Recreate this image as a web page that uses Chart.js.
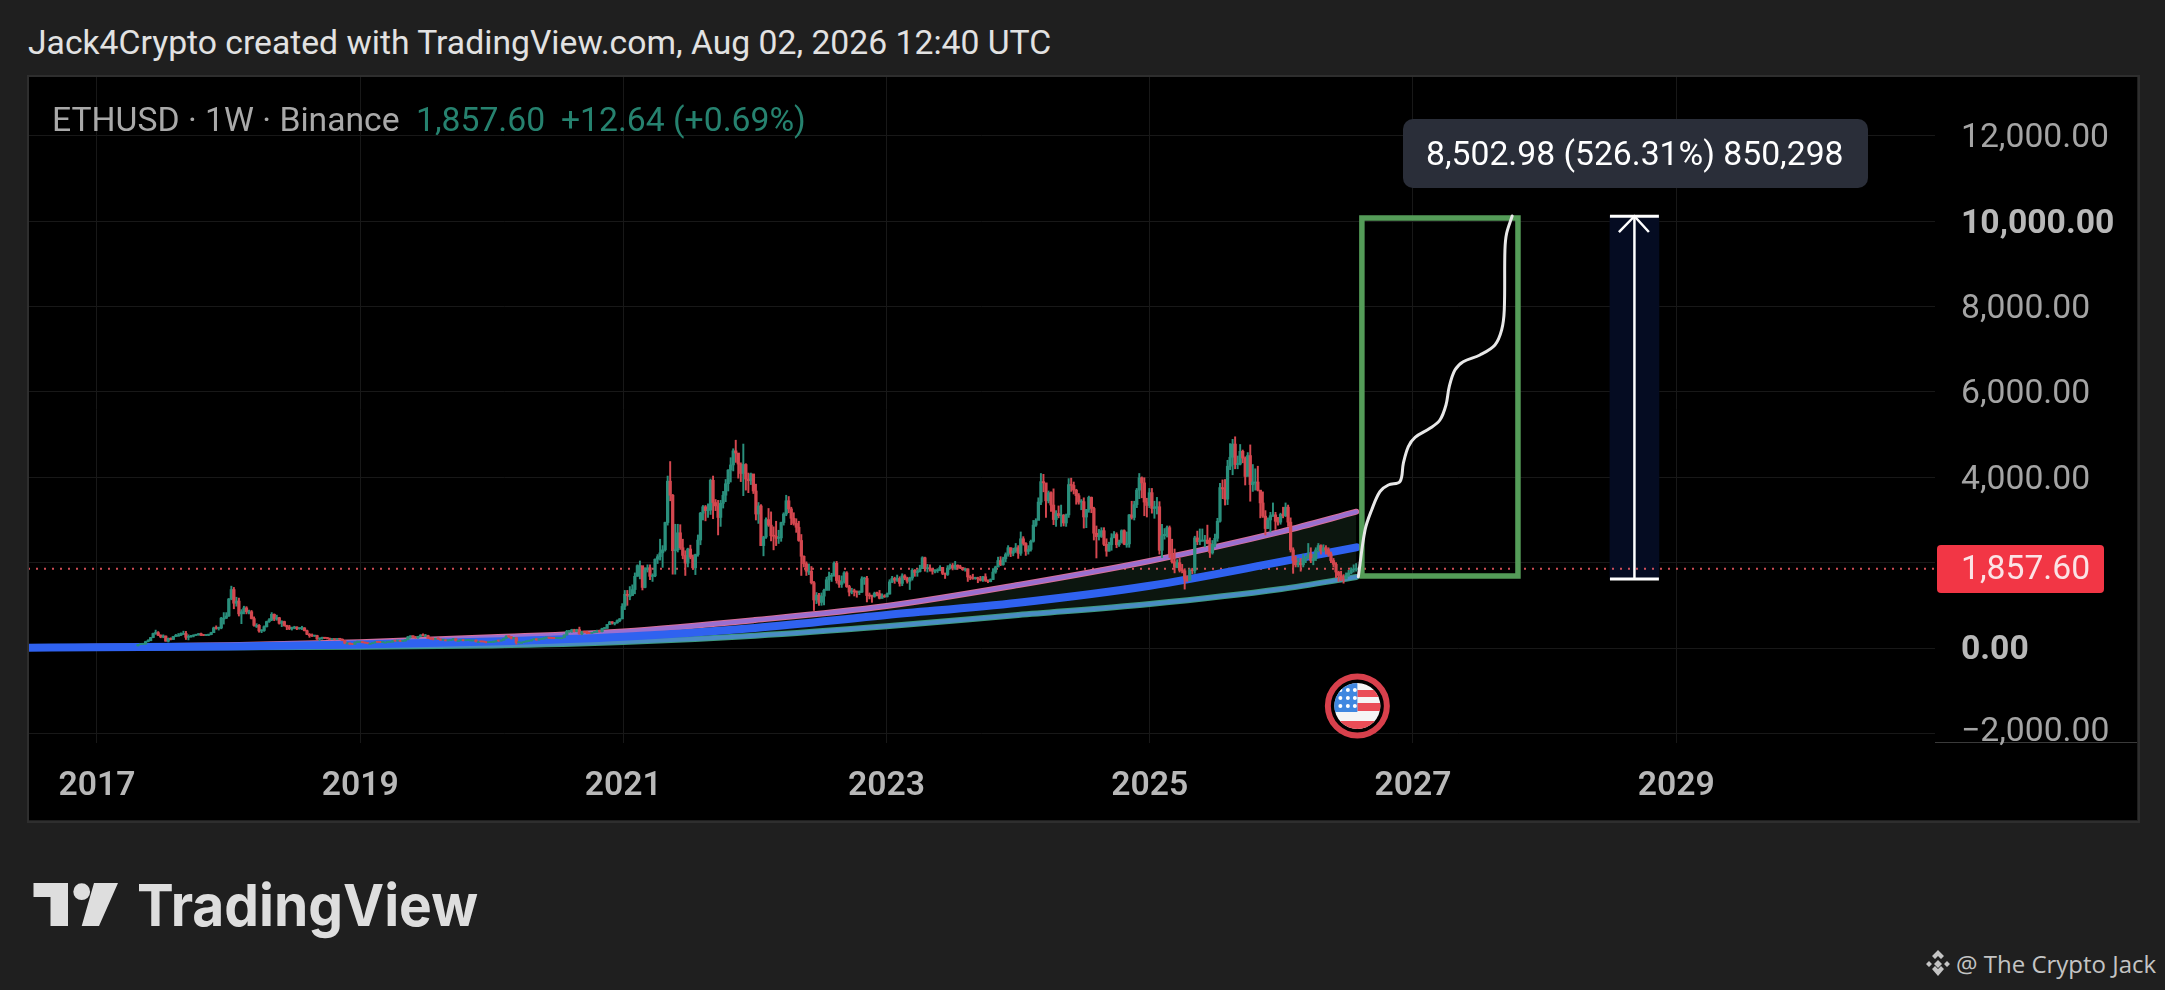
<!DOCTYPE html>
<html>
<head>
<meta charset="utf-8">
<title>ETHUSD</title>
<script src="https://cdn.jsdelivr.net/npm/chart.js@4"></script>
<style>
    html, body { margin: 0; padding: 0; width: 2165px; height: 990px; overflow: hidden; background: #1f1f1f; font-family: Roboto, sans-serif; }
    .txt { position: absolute; white-space: nowrap; line-height: 40px; height: 40px; }
    #panel { position: absolute; left: 28px; top: 76px; width: 2109px; height: 744px; background: #000; }
    #panelBorder { position: absolute; left: 27px; top: 75px; width: 2109px; height: 744px; border: 2px solid #2e2e2e; }
    #scaleLine { position: absolute; left: 1935px; top: 742px; width: 202px; height: 1px; background: #3a3a3a; }
    #tooltipBox { position: absolute; left: 1403px; top: 119px; width: 465px; height: 69px; background: #2a2e39; border-radius: 10px; }
    #lastPriceBox { position: absolute; left: 1937px; top: 545px; width: 167px; height: 48px; background: #f23645; border-radius: 4px; }
</style>
</head>
<body>
<div id="panel"><canvas id="myChart" width="2109" height="744"></canvas></div>
<div id="panelBorder"></div>
<div id="scaleLine"></div>

<div class="txt" style="left:28px;top:23px;font-size:33.7px;color:#e2e2e2">Jack4Crypto created with TradingView.com, Aug 02, 2026 12:40 UTC</div>
<div class="txt" style="left:52px;top:100px;font-size:33.7px;color:#a9a9a9">ETHUSD · 1W · Binance</div>
<div class="txt" style="left:416px;top:100px;font-size:33.7px;color:#26826f">1,857.60</div>
<div class="txt" style="left:561px;top:100px;font-size:33.7px;color:#26826f">+12.64 (+0.69%)</div>

<div id="tooltipBox"></div>
<div class="txt" style="left:1426px;top:134px;font-size:33.7px;color:#fff">8,502.98 (526.31%) 850,298</div>
<div id="lastPriceBox"></div>
<div class="txt" style="left:1961px;top:548px;font-size:33.7px;color:#fbe3e5">1,857.60</div>
<div class="txt" style="left:1961px;top:710px;font-size:33.7px;color:#a4a4a4">&minus;2,000.00</div>

<svg style="position:absolute;left:30px;top:870px" width="470" height="80">
    <path d="M3.5 13H38V56H20.5V27H3.5Z M64 13H88L69 56H51.7Z" fill="#dedede"/>
    <circle cx="51.7" cy="21.7" r="8.4" fill="#dedede"/>
    <text x="107" y="56" font-family="Inter" font-weight="700" font-size="58" fill="#dedede" textLength="341" lengthAdjust="spacingAndGlyphs">TradingView</text>
</svg>

<svg style="position:absolute;left:1924px;top:949px" width="30" height="30">
    <path d="M14 1l6 6-3 3-3-3-3 3-3-3Z M5 12l3 3-3 3-3-3Z M23 12l3 3-3 3-3-3Z M14 11l4 4-4 4-4-4Z M8 20l3-3 3 3 3-3 3 3-6 7Z" fill="#c4c4c4"/>
</svg>
<div class="txt" style="left:1956px;top:944px;font-family:'Open Sans';font-size:24px;color:#c4c4c4">@ The Crypto Jack</div>

<script>
    // weekly candles, first week is the end of april 2017
    const firstCandleYear = 2017.312;
    const candleWeeks = 7 / 365.25;

    const candleClose = [
        // 2017
        80, 88, 90, 150, 170, 245, 340, 360, 300, 260, 280, 160, 225, 200, 270, 300, 300, 340, 340, 250, 260, 280, 300, 305, 335, 300, 295, 300, 315, 360, 470, 460, 470, 700, 700, 750,
        // 2018
        1150, 1370, 1050, 1100, 800, 850, 940, 850, 850, 690, 530, 530, 400, 410, 500, 620, 660, 790, 680, 710, 580, 620, 525, 495, 450, 470, 490, 450, 460, 470, 405, 320, 290, 280, 290, 210, 220, 245, 230, 225, 200, 205, 200, 215, 205, 175, 115, 115, 90, 85, 130, 135, 150,
        // 2019
        125, 118, 105, 105, 120, 140, 135, 132, 135, 135, 137, 140, 170, 165, 170, 160, 165, 195, 260, 270, 265, 240, 270, 300, 290, 290, 225, 220, 205, 225, 210, 185, 190, 170, 180, 190, 215, 175, 175, 190, 172, 180, 185, 185, 185, 150, 150, 148, 142, 128, 132, 140,
        // 2020
        145, 170, 165, 185, 225, 275, 265, 225, 240, 125, 130, 130, 145, 160, 170, 195, 215, 190, 205, 210, 240, 245, 235, 230, 225, 240, 240, 240, 305, 390, 395, 430, 385, 430, 335, 385, 370, 355, 345, 365, 370, 410, 385, 455, 460, 550, 610, 590, 590, 640, 685, 975,
        // 2021
        1260, 1230, 1230, 1370, 1680, 1930, 1930, 1420, 1830, 1880, 1680, 1690, 2080, 2140, 2230, 2300, 2940, 3910, 3580, 2280, 2300, 2700, 2350, 2170, 1990, 2320, 2130, 1880, 2190, 2530, 3160, 3310, 3220, 3230, 3930, 3410, 3330, 3060, 3390, 3580, 3850, 4170, 4290, 4620, 4570, 4310, 4090, 4300, 3960, 3920, 4080, 3680,
        // 2022
        3140, 3330, 2400, 2600, 3010, 2880, 2630, 2620, 2570, 2580, 2940, 3140, 3450, 3260, 3040, 2920, 2830, 2520, 2150, 1975, 1800, 1800, 1530, 1125, 1240, 1070, 1215, 1350, 1600, 1680, 1700, 1985, 1580, 1490, 1555, 1760, 1440, 1310, 1330, 1320, 1300, 1310, 1620, 1630, 1230, 1220, 1210, 1280, 1275, 1165, 1215, 1200,
        // 2023
        1265, 1550, 1630, 1590, 1630, 1515, 1690, 1640, 1565, 1640, 1820, 1770, 1790, 1860, 2115, 1860, 1870, 1850, 1800, 1810, 1830, 1890, 1750, 1725, 1875, 1935, 1870, 1940, 1895, 1880, 1835, 1855, 1665, 1645, 1630, 1635, 1620, 1590, 1670, 1585, 1555, 1605, 1780, 1900, 2050, 1950, 2090, 2190, 2350, 2220, 2275, 2350,
        // 2024
        2220, 2560, 2450, 2265, 2310, 2500, 2880, 2990, 3420, 3900, 3870, 3450, 3640, 3350, 3010, 3150, 3100, 3110, 2930, 3120, 3830, 3810, 3700, 3570, 3420, 3430, 3070, 3245, 3530, 3270, 2690, 2610, 2615, 2750, 2430, 2270, 2420, 2580, 2660, 2420, 2480, 2750, 2440, 2440, 3120, 3060, 3360, 3700, 3990, 3870, 3420, 3340, 3640,
        // 2025
        3270, 3310, 3310, 2290, 2630, 2665, 2820, 2210, 2020, 1890, 2000, 1820, 1810, 1620, 1580, 1820, 1810, 2580, 2490, 2530, 2530, 2530, 2450, 2230, 2430, 2570, 2970, 3760, 3730, 3490, 4260, 4470, 4780, 4300, 4310, 4610, 4450, 4020, 4510, 3830, 3890, 3890, 3700, 3400, 3090, 2800, 3000, 3100, 3120, 2970, 2950, 3130,
        // 2026
        3100, 3300, 2950, 2300, 2050, 1950, 2000, 1950, 2080, 2100, 2200, 2050, 2100, 2300, 2400, 2280, 2350, 2300, 2200, 2050, 1960, 1780, 1700, 1640, 1620, 1700, 1760, 1830, 1844.96, 1857.6
    ];

    const candleHigh = [
        // 2017
        85, 92, 100, 160, 195, 250, 350, 420, 385, 310, 310, 285, 235, 240, 275, 320, 340, 355, 395, 390, 310, 300, 310, 315, 340, 350, 310, 310, 325, 370, 490, 520, 490, 720, 830, 830,
        // 2018
        1160, 1450, 1420, 1190, 1170, 900, 980, 970, 890, 880, 730, 570, 550, 430, 520, 630, 690, 830, 800, 770, 720, 640, 630, 535, 530, 490, 510, 500, 480, 510, 480, 420, 340, 330, 300, 300, 240, 255, 250, 240, 235, 210, 210, 220, 220, 215, 180, 130, 120, 100, 145, 165, 160,
        // 2019
        160, 130, 125, 110, 125, 150, 150, 150, 140, 140, 145, 145, 180, 175, 175, 175, 170, 200, 270, 290, 285, 270, 275, 315, 330, 320, 300, 240, 240, 230, 240, 215, 200, 195, 185, 195, 225, 220, 185, 195, 195, 185, 195, 190, 190, 190, 155, 155, 150, 145, 135, 145,
        // 2020
        150, 175, 180, 190, 230, 290, 290, 270, 250, 245, 140, 145, 150, 170, 175, 200, 225, 220, 215, 220, 245, 250, 250, 240, 235, 245, 250, 245, 310, 415, 400, 440, 440, 440, 490, 390, 395, 395, 370, 370, 385, 420, 420, 465, 480, 555, 625, 620, 600, 660, 690, 1040,
        // 2021
        1350, 1350, 1440, 1480, 1760, 1950, 2040, 1650, 1880, 1950, 1950, 1740, 2090, 2190, 2550, 2400, 2950, 4030, 4370, 3600, 2900, 2900, 2890, 2550, 2280, 2340, 2410, 2180, 2200, 2650, 3180, 3340, 3340, 3380, 3960, 4030, 3480, 3460, 3460, 3670, 3950, 4180, 4460, 4670, 4870, 4560, 4340, 4780, 4320, 4100, 4100, 4030,
        // 2022
        3840, 3410, 3360, 2620, 3050, 3270, 3190, 2840, 2970, 2760, 2950, 3170, 3580, 3550, 3300, 3170, 3030, 2970, 2660, 2160, 2020, 1970, 1910, 1560, 1300, 1280, 1290, 1380, 1660, 1780, 1750, 2020, 2030, 1700, 1690, 1790, 1790, 1470, 1400, 1380, 1340, 1340, 1670, 1660, 1680, 1290, 1240, 1310, 1310, 1350, 1270, 1250,
        // 2023
        1290, 1600, 1680, 1660, 1710, 1670, 1740, 1720, 1660, 1660, 1860, 1840, 1830, 1940, 2140, 2130, 1960, 1950, 1870, 1840, 1860, 1930, 1890, 1760, 1930, 1970, 1980, 2030, 1950, 1940, 1890, 1870, 1860, 1700, 1730, 1660, 1660, 1680, 1680, 1740, 1600, 1620, 1860, 1920, 2130, 2140, 2130, 2230, 2400, 2350, 2340, 2450,
        // 2024
        2400, 2720, 2610, 2470, 2400, 2530, 2990, 3030, 3520, 4090, 4070, 3680, 3680, 3660, 3730, 3220, 3330, 3350, 3130, 3140, 3970, 3980, 3890, 3720, 3620, 3480, 3520, 3250, 3560, 3540, 3300, 2860, 2780, 2820, 2820, 2560, 2480, 2680, 2730, 2700, 2530, 2770, 2770, 2720, 3130, 3440, 3440, 3740, 4090, 4010, 3990, 3510, 3740,
        // 2025
        3740, 3440, 3530, 3430, 2900, 2800, 2860, 2860, 2550, 2320, 2070, 2100, 1960, 1860, 1690, 1860, 1870, 2620, 2740, 2790, 2790, 2640, 2880, 2580, 2520, 2670, 3040, 3860, 3940, 3950, 4400, 4790, 4890, 4950, 4500, 4770, 4640, 4480, 4580, 4760, 4300, 4200, 4260, 3670, 3660, 3220, 3050, 3180, 3400, 3180, 3060, 3160,
        // 2026
        3300, 3400, 3350, 3050, 2350, 2150, 2100, 2100, 2200, 2150, 2450, 2350, 2200, 2350, 2450, 2420, 2420, 2400, 2350, 2250, 2100, 2000, 1800, 1800, 1720, 1760, 1820, 1880, 1950, 1980
    ];

    const candleLow = [
        // 2017
        50, 78, 85, 88, 145, 170, 240, 320, 290, 240, 240, 160, 140, 190, 200, 265, 280, 290, 320, 200, 190, 255, 260, 290, 300, 290, 290, 290, 290, 310, 360, 440, 420, 450, 560, 690,
        // 2018
        740, 1130, 920, 980, 750, 570, 800, 800, 800, 680, 510, 480, 370, 360, 390, 490, 600, 640, 640, 650, 560, 500, 510, 430, 430, 420, 450, 430, 440, 430, 400, 310, 250, 270, 270, 200, 170, 205, 220, 210, 190, 195, 190, 195, 200, 170, 100, 105, 85, 80, 85, 125, 130,
        // 2019
        120, 115, 100, 100, 100, 118, 130, 125, 125, 125, 130, 130, 135, 155, 160, 150, 150, 160, 190, 230, 235, 225, 225, 260, 280, 270, 220, 195, 190, 205, 205, 180, 180, 165, 165, 175, 185, 160, 165, 170, 165, 170, 175, 175, 180, 140, 140, 140, 140, 118, 125, 125,
        // 2020
        125, 140, 155, 160, 180, 220, 245, 210, 215, 90, 120, 120, 125, 140, 150, 160, 190, 180, 180, 195, 205, 225, 220, 220, 220, 220, 235, 230, 240, 300, 365, 365, 375, 380, 320, 310, 355, 335, 335, 340, 355, 365, 370, 375, 445, 460, 550, 560, 540, 580, 615, 680,
        // 2021
        900, 1000, 1130, 1230, 1270, 1680, 1620, 1360, 1410, 1780, 1600, 1560, 1670, 1980, 2060, 1890, 2270, 2880, 3450, 1730, 1730, 2250, 2310, 2090, 1700, 1900, 2090, 1850, 1720, 2150, 2420, 3000, 2980, 3060, 3130, 3030, 3220, 2650, 2850, 3280, 3430, 3680, 3890, 4150, 4350, 3980, 3900, 3570, 3700, 3640, 3830, 3620,
        // 2022
        3000, 2920, 2400, 2160, 2570, 2850, 2510, 2300, 2400, 2450, 2500, 2880, 3100, 3170, 2890, 2880, 2710, 2500, 1700, 1900, 1700, 1720, 1500, 880, 1040, 1000, 1000, 1010, 1360, 1350, 1560, 1680, 1520, 1420, 1420, 1520, 1420, 1220, 1270, 1220, 1190, 1250, 1300, 1490, 1080, 1150, 1070, 1190, 1220, 1150, 1165, 1185,
        // 2023
        1195, 1260, 1530, 1515, 1560, 1450, 1460, 1600, 1520, 1370, 1590, 1680, 1680, 1780, 1860, 1800, 1780, 1800, 1730, 1760, 1770, 1810, 1720, 1630, 1700, 1850, 1830, 1840, 1850, 1860, 1820, 1800, 1560, 1600, 1610, 1610, 1530, 1570, 1560, 1560, 1530, 1550, 1600, 1750, 1900, 1930, 1940, 2020, 2150, 2140, 2160, 2240,
        // 2024
        2100, 2170, 2410, 2170, 2200, 2270, 2480, 2850, 3040, 3360, 3660, 3060, 3400, 3200, 2890, 2850, 3050, 2850, 2860, 2850, 3060, 3670, 3610, 3370, 3370, 3240, 2810, 2820, 3180, 3170, 2530, 2110, 2530, 2590, 2400, 2150, 2270, 2290, 2590, 2350, 2380, 2460, 2420, 2360, 2360, 3020, 3000, 3290, 3500, 3520, 3100, 3070, 3290,
        // 2025
        3160, 3040, 3140, 2200, 2120, 2550, 2600, 2120, 1990, 1760, 1880, 1780, 1760, 1380, 1560, 1750, 1740, 1750, 2420, 2420, 2500, 2370, 2440, 2120, 2200, 2370, 2500, 2950, 3500, 3350, 3360, 4180, 4060, 4200, 4200, 4290, 4340, 3820, 4070, 3440, 3670, 3700, 3680, 3050, 3060, 2650, 2800, 2720, 3080, 2780, 2880, 2900,
        // 2026
        3050, 3080, 2850, 2250, 1750, 1900, 1900, 1800, 1900, 2000, 2100, 2000, 1950, 2050, 2250, 2200, 2250, 2200, 2150, 2000, 1900, 1650, 1560, 1580, 1520, 1640, 1680, 1740, 1780, 1800
    ];

    const bandYears = [2016.476, 2017, 2018, 2019, 2020, 2021, 2022, 2023, 2024, 2025, 2026, 2026.57];
    const bandUpper = [15, 30, 65, 135, 250, 390, 656, 984, 1476, 2039, 2726, 3194];
    const bandMiddle = [8, 15, 38, 80, 150, 265, 470, 773, 1062, 1460, 2023, 2360];
    const bandLower = [3, 6, 15, 30, 60, 140, 290, 510, 773, 1031, 1383, 1664];

    // hand drawn projection
    const pathYears = [2026.585, 2026.636, 2026.686, 2026.749, 2026.813, 2026.901, 2026.927, 2026.965, 2027.016, 2027.129, 2027.205, 2027.251, 2027.276, 2027.319, 2027.382, 2027.509, 2027.623, 2027.674, 2027.694, 2027.699, 2027.712, 2027.754];
    const pathPrices = [1672, 2765, 3234, 3664, 3820, 3898, 4328, 4718, 4937, 5148, 5343, 5695, 6125, 6515, 6710, 6867, 7101, 7453, 7921, 9327, 9719, 10124];

    const boxYears = [2026.612, 2027.798];
    const boxPrices = [1687, 10078];

    const measureYears = [2028.497, 2028.683, 2028.869];
    const measureHeadYears = [2028.565, 2028.793];
    const measurePrices = [1615.6, 10118.6];
    const measureHeadPrice = 9749;

    const lastPrice = 1857.6;
    const flagYear = 2026.57;

    const yearTicks = [2017, 2019, 2021, 2023, 2025, 2027, 2029];
    const priceTicks = [-2000, 0, 2000, 4000, 6000, 8000, 10000, 12000];
    const boldPrices = [0, 10000];
    // no scale label for these, 2,000 is under the last price tag and -2,000 sits above its tick
    const hiddenPriceLabels = [-2000, 2000];

    const upColor = '#2a8f7c';
    const downColor = '#d4474f';

    const xMin = 2016.476, xMax = 2030.967;

    const zip = (xs, ys) => xs.map((x, i) => ({ x: x, y: ys[i] }));

    const candleOpen = candleClose.map((c, i) => i === 0 ? 50 : candleClose[i - 1]);
    const candleYear = candleClose.map((c, i) => firstCandleYear + i * candleWeeks);
    const candleColors = candleClose.map((c, i) => c >= candleOpen[i] ? upColor : downColor);

    function lineSet(data, color, width, order, extra) {
        return Object.assign({
            type: 'line', data: data, borderColor: color, borderWidth: width, order: order,
            pointRadius: 0, tension: 0, fill: false, borderCapStyle: 'round'
        }, extra || {});
    }

    function bandSet(values, color, width, order, extra) {
        return lineSet(zip(bandYears, values), color, width, order, Object.assign({ cubicInterpolationMode: 'monotone' }, extra || {}));
    }

    function isBold(ctx) {
        return !!ctx.tick && boldPrices.includes(ctx.tick.value);
    }

    // us event marker below the candles
    const flagPlugin = {
        id: 'flagMarker',
        afterDatasetsDraw(chart) {
            const c = chart.ctx;
            const cx = chart.scales.x.getPixelForValue(flagYear) + 1;
            const cy = 630;
            c.save();
            c.beginPath();
            c.arc(cx, cy, 29.5, 0, Math.PI * 2);
            c.fillStyle = '#000';
            c.fill();
            c.lineWidth = 6;
            c.strokeStyle = '#d8404c';
            c.stroke();

            c.beginPath();
            c.arc(cx, cy, 23, 0, Math.PI * 2);
            c.clip();
            c.fillStyle = '#f5f5f5';
            c.fillRect(cx - 24, cy - 24, 48, 48);
            c.fillStyle = '#ea4d57';
            c.fillRect(cx, cy - 16, 24, 7);
            c.fillRect(cx, cy - 3, 24, 8);
            c.fillRect(cx - 24, cy + 15, 48, 9);
            c.fillStyle = '#3f87e0';
            c.fillRect(cx - 24, cy - 24, 24, 30);
            c.fillStyle = '#fff';
            [-16, -8, 0].forEach(dy => {
                [-17, -9.5, -2.5].forEach(dx => {
                    c.beginPath();
                    c.arc(cx + dx, cy + dy, 2, 0, Math.PI * 2);
                    c.fill();
                });
            });
            c.restore();
        }
    };

    const boxOutline = zip(
        [boxYears[0], boxYears[1], boxYears[1], boxYears[0], boxYears[0]],
        [boxPrices[1], boxPrices[1], boxPrices[0], boxPrices[0], boxPrices[1]]
    );

    const chart = new Chart(document.getElementById('myChart'), {
        type: 'bar',
        data: {
            datasets: [
                // measure tool
                {
                    data: [{ x: measureYears[1], y: measurePrices }],
                    backgroundColor: '#050c22', barThickness: 49, grouped: false, order: 12
                },
                // band fill and lines
                bandSet(bandUpper, 'transparent', 0, 11, { fill: '+1', backgroundColor: '#0c160f' }),
                bandSet(bandLower, 'transparent', 0, 11),
                lineSet(zip([xMin, xMax], [lastPrice, lastPrice]), 'rgba(245,90,100,.85)', 2, 10, { borderDash: [2, 6], borderCapStyle: 'butt' }),
                bandSet(bandUpper, '#d8709a', 6, 9),
                bandSet(bandUpper, '#9a6fd0', 4, 8),
                bandSet(bandLower, '#3d9a80', 6, 7),
                bandSet(bandLower, '#4a8cc4', 4, 6),
                bandSet(bandMiddle, '#2f62f0', 8, 5),
                // long position box and projected path
                lineSet(boxOutline, '#549c58', 5.5, 4, { borderCapStyle: 'square', borderJoinStyle: 'miter' }),
                lineSet(zip(pathYears, pathPrices), '#e8e8e8', 3, 3, { tension: 0.35 }),
                lineSet(zip([measureYears[1], measureYears[1]], measurePrices), '#fff', 2.5, 3, { borderCapStyle: 'butt' }),
                lineSet(zip([measureYears[0], measureYears[2]], [measurePrices[0], measurePrices[0]]), '#fff', 3, 3, { borderCapStyle: 'butt' }),
                lineSet(zip([measureYears[0], measureYears[2]], [measurePrices[1], measurePrices[1]]), '#fff', 3, 3, { borderCapStyle: 'butt' }),
                lineSet(zip([measureHeadYears[0], measureYears[1], measureHeadYears[1]], [measureHeadPrice, measurePrices[1], measureHeadPrice]), '#fff', 2.5, 3, { borderCapStyle: 'butt' }),
                // candles
                {
                    data: candleYear.map((x, i) => ({ x: x, y: [candleLow[i], candleHigh[i]] })),
                    backgroundColor: candleColors, barThickness: 1.3, grouped: false, order: 2
                },
                {
                    data: candleYear.map((x, i) => ({ x: x, y: [candleOpen[i], candleClose[i]] })),
                    backgroundColor: candleColors, barThickness: 2.6, grouped: false, order: 1, minBarLength: 1
                }
            ]
        },
        options: {
            responsive: false,
            animation: false,
            events: [],
            layout: { padding: 0 },
            plugins: { legend: { display: false }, tooltip: { enabled: false } },
            scales: {
                x: {
                    type: 'linear',
                    min: xMin,
                    max: xMax,
                    offset: false,
                    afterBuildTicks: (scale) => { scale.ticks = yearTicks.map(v => ({ value: v })); },
                    // keep the plot area where the picture has it, labels may not push it in
                    afterFit: (scale) => { scale.height = 77; scale.paddingLeft = 0; scale.paddingRight = 0; },
                    grid: { color: '#181818', offset: false, drawTicks: false },
                    border: { display: false },
                    ticks: {
                        autoSkip: false,
                        maxRotation: 0,
                        padding: 23,
                        color: '#b8b8b8',
                        font: { family: 'Roboto', size: 33.7, weight: '600' },
                        callback: (v) => String(v)
                    }
                },
                y: {
                    type: 'linear',
                    position: 'right',
                    min: -2226,
                    max: 13405,
                    afterBuildTicks: (scale) => { scale.ticks = priceTicks.map(v => ({ value: v })); },
                    afterFit: (scale) => { scale.width = 202; scale.paddingTop = 0; scale.paddingBottom = 0; },
                    grid: { color: '#181818', drawTicks: false },
                    border: { display: false },
                    ticks: {
                        autoSkip: false,
                        padding: 26,
                        labelOffset: 3,
                        crossAlign: 'near',
                        color: (ctx) => isBold(ctx) ? '#b8b8b8' : '#a4a4a4',
                        font: (ctx) => ({ family: 'Roboto', size: 33.7, weight: isBold(ctx) ? '700' : '400' }),
                        callback: (v) => hiddenPriceLabels.includes(v) ? '' : v.toLocaleString('en-US', { minimumFractionDigits: 2 })
                    }
                }
            }
        },
        plugins: [flagPlugin]
    });
</script>
</body>
</html>
